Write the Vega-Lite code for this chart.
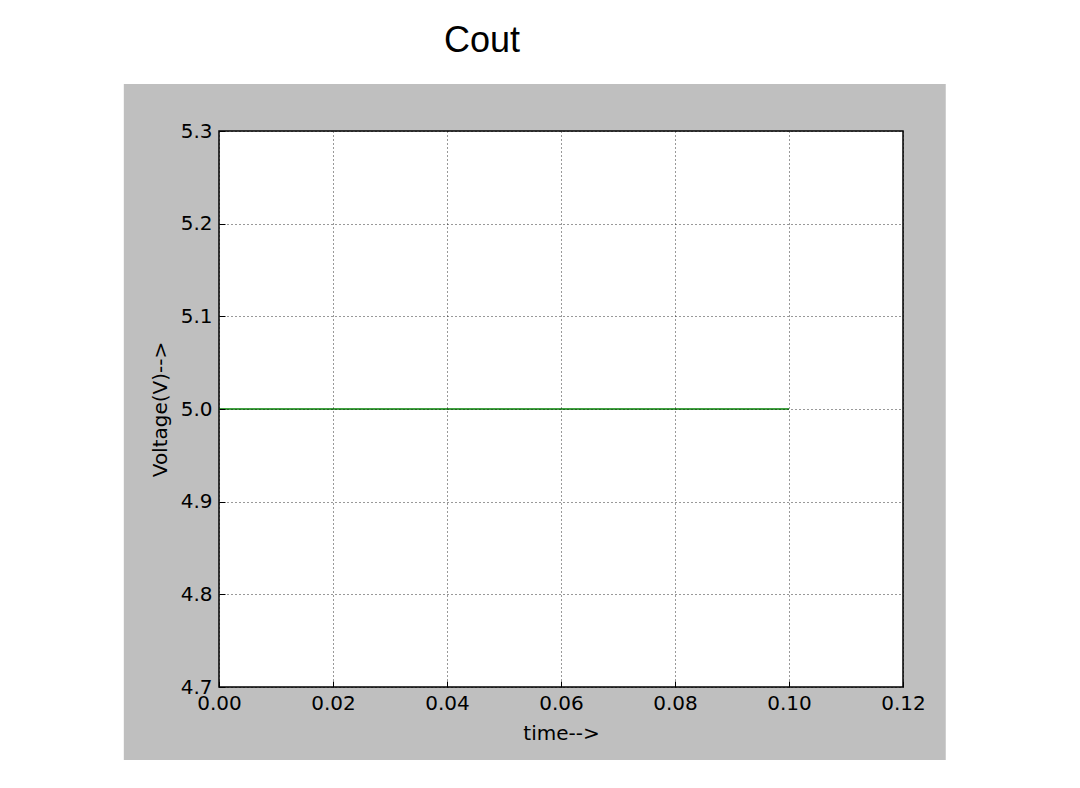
{
  "$schema": "https://vega.github.io/schema/vega-lite/v6.json",
  "width": 684,
  "height": 556,
  "autosize": "none",
  "padding": {"left": 219, "top": 131, "right": 177, "bottom": 101},
  "background": "white",
  "title": {
    "text": "Cout",
    "font": "Liberation Sans",
    "fontSize": 36,
    "fontWeight": "normal",
    "color": "#000000",
    "anchor": "middle",
    "frame": "group",
    "baseline": "alphabetic",
    "dx": -79,
    "offset": -4
  },
  "config": {
    "view": {"stroke": null},
    "axis": {
      "labelFont": "DejaVu Sans",
      "labelFontSize": 20,
      "labelColor": "#000000",
      "titleFont": "DejaVu Sans",
      "titleFontSize": 20,
      "titleFontWeight": "normal",
      "titleColor": "#000000",
      "grid": true,
      "gridColor": "#000000",
      "gridOpacity": 0.8,
      "gridDash": [1, 3],
      "gridWidth": 1,
      "domain": false,
      "ticks": true,
      "tickColor": "#000000",
      "tickSize": -6,
      "tickWidth": 1,
      "labelOverlap": false,
      "labelFlush": false
    }
  },
  "layer": [
    {
      "data": {"values": [{}]},
      "mark": {"type": "rect", "fill": "#bfbfbf", "clip": false},
      "encoding": {
        "x": {"datum": -0.0167, "type": "quantitative"},
        "x2": {"datum": 0.1275},
        "y": {"datum": 5.3507, "type": "quantitative"},
        "y2": {"datum": 4.6212}
      }
    },
    {
      "data": {"values": [{}]},
      "mark": {"type": "rect", "fill": "#ffffff", "stroke": "#000000", "strokeWidth": 1.5, "clip": false},
      "encoding": {
        "x": {"datum": 0, "type": "quantitative"},
        "x2": {"datum": 0.12},
        "y": {"datum": 4.7, "type": "quantitative"},
        "y2": {"datum": 5.3}
      }
    },
    {
      "data": {
        "values": [
          {"time": 0.0, "voltage": 5.0},
          {"time": 0.1, "voltage": 5.0}
        ]
      },
      "mark": {"type": "line", "color": "#008000", "strokeWidth": 1.5},
      "encoding": {
        "x": {
          "field": "time",
          "type": "quantitative",
          "scale": {"domain": [0, 0.12], "nice": false, "zero": false},
          "axis": {
            "values": [0, 0.02, 0.04, 0.06, 0.08, 0.1, 0.12],
            "format": ".2f",
            "labelPadding": 12,
            "title": "time-->",
            "titlePadding": 10,
            "zindex": 1
          }
        },
        "y": {
          "field": "voltage",
          "type": "quantitative",
          "scale": {"domain": [4.7, 5.3], "nice": false, "zero": false},
          "axis": {
            "values": [4.7, 4.8, 4.9, 5.0, 5.1, 5.2, 5.3],
            "format": ".1f",
            "labelPadding": 13,
            "title": "Voltage(V)-->",
            "titlePadding": 10,
            "zindex": 1
          }
        }
      }
    }
  ]
}
